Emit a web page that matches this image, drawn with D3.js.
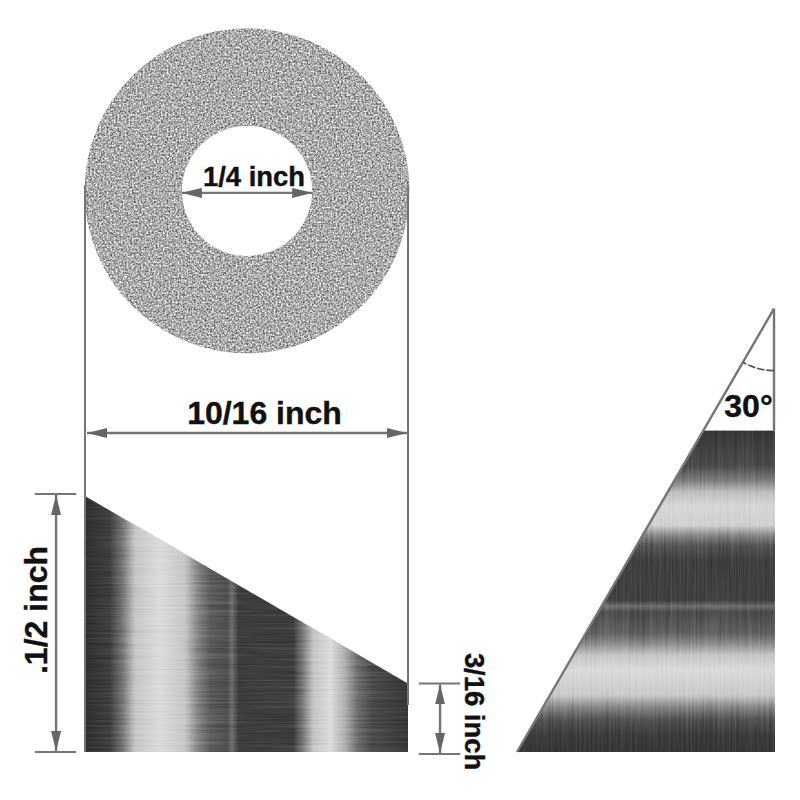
<!DOCTYPE html>
<html>
<head>
<meta charset="utf-8">
<script src="https://d3js.org/d3.v7.min.js"></script>
<style>
  html, body { margin: 0; padding: 0; background: #fff; }
  svg { display: block; }
  text { font-family: "Liberation Sans", Arial, sans-serif; font-weight: bold; fill: #111; stroke: #111; stroke-width: 0.4; }
</style>
</head>
<body>
<svg id="chart" width="800" height="800"></svg>
<script>
//////////
// Data //
//////////

// everything is in inches as drawn, the short wedge side is not to scale in the picture
var washerDiameters = [0.625, 0.25];
var wedgeHeights = [0.5, 0.134];
var triangleSides = [0.5, 0.866];
var triangleShadeHeight = 0.628;
var angleDegrees = [30];
var dimensionLabels = ['1/4 inch', '10/16 inch', '.1/2 inch', '3/16 inch', '30\u00b0'];

// grey bands on the metal, offset is a fraction across the shape
var wedgeShadeOffsets = [0, .077, .115, .155, .232, .31, .35, .387, .44, .455, .475, .645, .675, .707, .76, .805, .845, .889, 1];
var wedgeShadeGreys = [46, 62, 115, 198, 220, 198, 132, 92, 78, 110, 60, 62, 124, 198, 220, 175, 108, 74, 54];
var triangleShadeOffsets = [0, .109, .155, .193, .233, .295, .326, .357, .404, .528, .547, .565, .63, .661, .699, .745, .823, .86, .90, .947, 1];
var triangleShadeGreys = [54, 74, 124, 192, 214, 208, 134, 84, 62, 64, 110, 74, 96, 136, 198, 218, 202, 134, 80, 58, 54];

////////////
// Scales //
////////////

var x = d3.scaleLinear().domain([0, washerDiameters[0]]).range([85, 408]);
var y = d3.scaleLinear().domain([0, wedgeHeights[0]]).range([752, 496]);
var triX = d3.scaleLinear().domain([0, triangleSides[0]]).range([517, 775]);

var lineColor = '#757575';
var svg = d3.select('#chart');
var defs = svg.append('defs');

/////////////
// Helpers //
/////////////

var addGradient = function(id, horizontal, offsets, greys) {
  var gradient = defs.append('linearGradient')
    .attr('id', id)
    .attr('x1', 0).attr('y1', 0)
    .attr('x2', horizontal ? 1 : 0).attr('y2', horizontal ? 0 : 1);
  gradient.selectAll('stop')
    .data(offsets)
    .enter().append('stop')
      .attr('offset', function(d) { return d; })
      .attr('stop-color', function(d, i) { return d3.rgb(greys[i], greys[i], greys[i]); });
};

// streaky noise laid over the gradient so it looks like brushed steel
var addBrushedFilter = function(id, frequency) {
  var filter = defs.append('filter')
    .attr('id', id)
    .attr('color-interpolation-filters', 'sRGB')
    .attr('x', 0).attr('y', 0).attr('width', 1).attr('height', 1);
  filter.append('feTurbulence')
    .attr('type', 'fractalNoise')
    .attr('baseFrequency', frequency)
    .attr('numOctaves', 2)
    .attr('seed', 4)
    .attr('result', 'noise');
  filter.append('feColorMatrix')
    .attr('in', 'noise')
    .attr('type', 'matrix')
    .attr('values', '0.35 0 0 0 0.33  0.35 0 0 0 0.33  0.35 0 0 0 0.33  0 0 0 0 1')
    .attr('result', 'grey');
  filter.append('feBlend')
    .attr('in', 'grey')
    .attr('in2', 'SourceGraphic')
    .attr('mode', 'soft-light')
    .attr('result', 'mixed');
  filter.append('feComposite')
    .attr('in', 'mixed')
    .attr('in2', 'SourceAlpha')
    .attr('operator', 'in');
};

var addSpeckleFilter = function() {
  var filter = defs.append('filter')
    .attr('id', 'speckle')
    .attr('color-interpolation-filters', 'sRGB');
  filter.append('feTurbulence')
    .attr('type', 'fractalNoise')
    .attr('baseFrequency', 0.55)
    .attr('numOctaves', 2)
    .attr('seed', 8)
    .attr('result', 'noise');
  filter.append('feColorMatrix')
    .attr('in', 'noise')
    .attr('type', 'matrix')
    .attr('values', '1.1 0 0 0 0.12  1.1 0 0 0 0.12  1.1 0 0 0 0.12  0 0 0 0 1');
  filter.append('feGaussianBlur')
    .attr('stdDeviation', 0.55)
    .attr('result', 'grey');
  filter.append('feComposite')
    .attr('in', 'grey')
    .attr('in2', 'SourceAlpha')
    .attr('operator', 'in');
};

var addArrowMarker = function() {
  defs.append('marker')
    .attr('id', 'arrowhead')
    .attr('markerUnits', 'userSpaceOnUse')
    .attr('viewBox', '0 0 20 10')
    .attr('markerWidth', 20)
    .attr('markerHeight', 10)
    .attr('refX', 20) // Capitalization matters
    .attr('refY', 5)
    .attr('orient', 'auto-start-reverse')
    .append('path')
      .attr('d', 'M0,0 L20,5 L0,10 Z')
      .attr('fill', '#666');
};

var drawLine = function(x1, y1, x2, y2, width) {
  return svg.append('line')
    .attr('x1', x1).attr('y1', y1)
    .attr('x2', x2).attr('y2', y2)
    .attr('stroke', lineColor)
    .attr('stroke-width', width || 2);
};

var drawArrow = function(x1, y1, x2, y2) {
  drawLine(x1, y1, x2, y2, 2.4)
    .attr('marker-start', 'url(#arrowhead)')
    .attr('marker-end', 'url(#arrowhead)');
};

var drawLabel = function(label, px, py, size, rotate) {
  svg.append('text')
    .attr('transform', 'translate(' + px + ',' + py + ') rotate(' + (rotate || 0) + ')')
    .attr('text-anchor', 'middle')
    .attr('font-size', size)
    .text(label);
};

var polygon = d3.line();

addGradient('wedge-shade', true, wedgeShadeOffsets, wedgeShadeGreys);
addGradient('triangle-shade', false, triangleShadeOffsets, triangleShadeGreys);
addBrushedFilter('brushed-wedge', '0.012 0.55');
addBrushedFilter('brushed-triangle', '0.55 0.012');
addSpeckleFilter();
addArrowMarker();

////////////
// Washer //
////////////

var washerX = x(washerDiameters[0] / 2) + 0.5;
var washerY = y(1.096);
var pxPerInch = x(1) - x(0);

svg.append('path')
  .attr('transform', 'translate(' + washerX + ',' + washerY + ')')
  .attr('d', d3.arc()
    .innerRadius(washerDiameters[1] / 2 * pxPerInch + 0.5)
    .outerRadius(washerDiameters[0] / 2 * pxPerInch + 1)
    .startAngle(0)
    .endAngle(2 * Math.PI)())
  .attr('fill', '#999')
  .attr('filter', 'url(#speckle)');

drawArrow(x(washerDiameters[0] / 2 - washerDiameters[1] / 2), y(1.092),
  x(washerDiameters[0] / 2 + washerDiameters[1] / 2) + 1, y(1.092));
drawLabel(dimensionLabels[0], 254, 186, 27.4);

///////////
// Wedge //
///////////

svg.append('path')
  .attr('d', polygon([
    [x(0), y(wedgeHeights[0])],
    [x(washerDiameters[0]), y(wedgeHeights[1])],
    [x(washerDiameters[0]), y(0)],
    [x(0), y(0)]
  ]) + 'Z')
  .attr('fill', 'url(#wedge-shade)')
  .attr('filter', 'url(#brushed-wedge)');

// extension lines run down from the washer past the wedge
drawLine(x(0), y(1.107), x(0), y(0));
drawLine(x(washerDiameters[0]), y(1.107), x(washerDiameters[0]), y(0.092));

drawArrow(x(0) + 2, y(0.623), x(washerDiameters[0]) - 1, y(0.623));
drawLabel(dimensionLabels[1], 264.5, 424, 32);

// .1/2 inch, left of the wedge
drawLine(x(-0.097), y(wedgeHeights[0]) - 2, x(-0.017), y(wedgeHeights[0]) - 2);
drawLine(x(-0.097), y(0), x(-0.017), y(0));
drawArrow(x(-0.056), y(wedgeHeights[0]) - 1, x(-0.056), y(0) - 1);
drawLabel(dimensionLabels[2], 47, 610, 32, -90);

// 3/16 inch, right of the wedge
drawLine(x(0.646), y(wedgeHeights[1]), x(0.726), y(wedgeHeights[1]));
drawLine(x(0.646), y(0) + 2, x(0.726), y(0) + 2);
drawArrow(x(0.687), y(wedgeHeights[1]) + 1, x(0.687), y(0) + 1);
drawLabel(dimensionLabels[3], 465, 711.5, 27.4, 90);

//////////////
// Triangle //
//////////////

var hypotenuseX = function(height) {
  return triX(triangleSides[0] * (height / triangleSides[1]));
};

svg.append('path')
  .attr('d', polygon([
    [hypotenuseX(triangleShadeHeight), y(triangleShadeHeight)],
    [triX(triangleSides[0]), y(triangleShadeHeight)],
    [triX(triangleSides[0]), y(0)],
    [triX(0), y(0)]
  ]) + 'Z')
  .attr('fill', 'url(#triangle-shade)')
  .attr('filter', 'url(#brushed-triangle)');

drawLine(triX(0), y(0), triX(triangleSides[0]) - 1, y(triangleSides[1]), 2.4);
drawLine(triX(triangleSides[0]) - 1, y(triangleSides[1]), triX(triangleSides[0]) - 1, y(triangleShadeHeight), 2.4);

// dashed angle mark hanging from the apex
var angleRadians = angleDegrees[0] * Math.PI / 180;
svg.append('path')
  .attr('transform', 'translate(' + (triX(triangleSides[0]) - 1) + ',' + y(triangleSides[1]) + ')')
  .attr('d', d3.arc()
    .innerRadius(62)
    .outerRadius(62)
    .startAngle(Math.PI)
    .endAngle(Math.PI + angleRadians)())
  .attr('fill', 'none')
  .attr('stroke', '#555')
  .attr('stroke-width', 1.6)
  .attr('stroke-dasharray', '6,3.5');

drawLabel(dimensionLabels[4], 748.5, 417, 32);
</script>
</body>
</html>
